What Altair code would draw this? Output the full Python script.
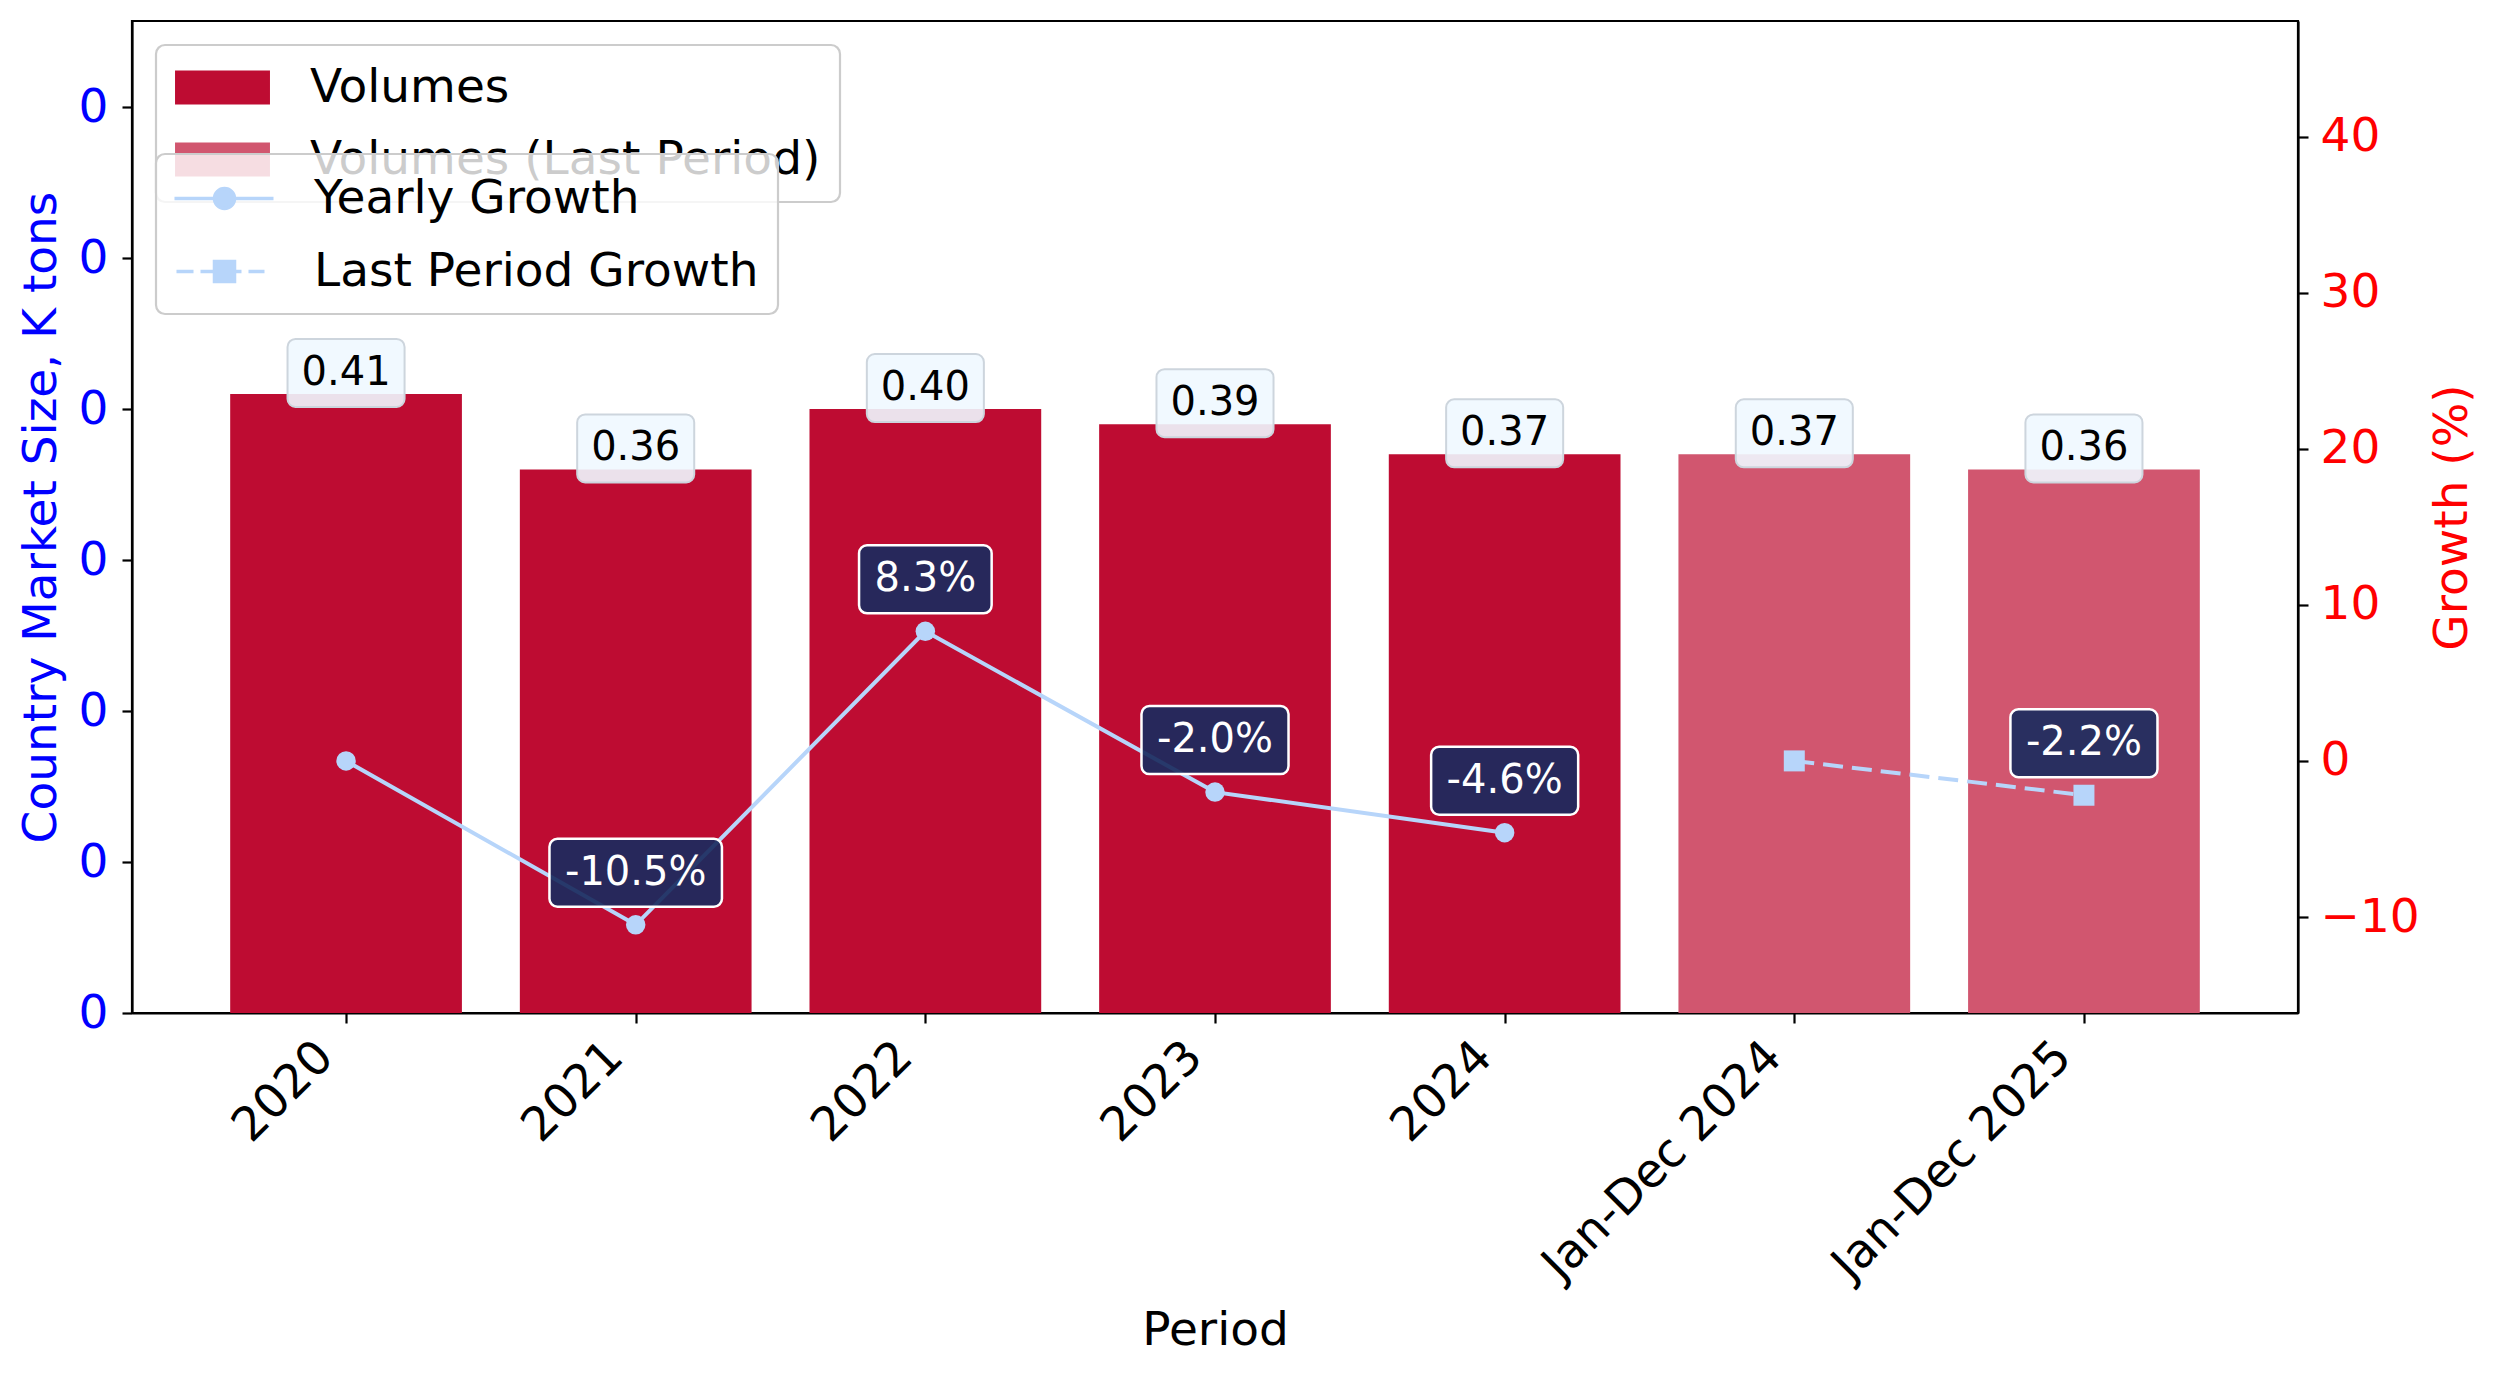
import json
import altair as alt
import pandas as pd

# ---------------- data ----------------
periods = ["2020", "2021", "2022", "2023", "2024", "Jan-Dec 2024", "Jan-Dec 2025"]
volumes = [0.41, 0.36, 0.40, 0.39, 0.37, 0.37, 0.36]
volume_kinds = ["Volumes", "Volumes", "Volumes", "Volumes", "Volumes",
                "Volumes (Last Period)", "Volumes (Last Period)"]
kind_names = ["Volumes", "Volumes (Last Period)"]
yearly_growth = [0.0, -10.5, 8.3, -2.0, -4.6]        # 2020..2024
last_period_growth = [0.0, -2.2]                      # Jan-Dec 2024, Jan-Dec 2025
growth_series = ["Yearly Growth", "Last Period Growth"]
left_ticks = [0, 0.1, 0.2, 0.3, 0.4, 0.5, 0.6]
right_ticks = [-10, 0, 10, 20, 30, 40]

# ---------------- layout / style ----------------
W, H = 2166, 992
X_DOM = [-0.739, 6.739]
VOL_DOM = [0, 0.657]
GR_DOM = [-16.15, 47.4]
PX_X = W / (X_DOM[1] - X_DOM[0])
PX_V = H / (VOL_DOM[1] - VOL_DOM[0])
PX_G = H / (GR_DOM[1] - GR_DOM[0])

FONT = "DejaVu Sans"
BAR_COLOR = "#BE0C32"
BAR_LAST_COLOR = "#D1566F"
LINE_COLOR = "#B7D5FA"
NAVY = "#1A2B5E"
LABEL_FS = 40
TICK_FS = 47

CHAR_EM = {"0": .636, "1": .636, "2": .636, "3": .636, "4": .636, "5": .636,
           "6": .636, "7": .636, "8": .636, "9": .636, ".": .318, "-": .361, "%": .950}


def text_px(s, size):
    return sum(CHAR_EM.get(c, 0.6) for c in s) * size


# bars table
bar_rows = []
for i, (p, v, k) in enumerate(zip(periods, volumes, volume_kinds)):
    lab = f"{v:.2f}"
    bw = text_px(lab, LABEL_FS) + 28
    bar_rows.append(dict(idx=i, period=p, vol=v, kind=k, label=lab,
                         x0=i - 0.4, x1=i + 0.4,
                         bx0=i - bw / 2 / PX_X, bx1=i + bw / 2 / PX_X,
                         by0=v + (21 - 34) / PX_V, by1=v + (21 + 34) / PX_V,
                         bty=v + 21 / PX_V))
bars_df = pd.DataFrame(bar_rows)

# growth table
gr_rows = []
n_year = len(yearly_growth)
for j, g in enumerate(yearly_growth):
    gr_rows.append(dict(idx=j, g=g, series=growth_series[0], first=(j == 0)))
for j, g in enumerate(last_period_growth):
    gr_rows.append(dict(idx=n_year + j, g=g, series=growth_series[1], first=(j == 0)))
for r in gr_rows:
    lab = f"{r['g']:.1f}%"
    bw = text_px(lab, LABEL_FS) + 31
    r.update(label=lab, gx0=r["idx"] - bw / 2 / PX_X, gx1=r["idx"] + bw / 2 / PX_X,
             gy0=r["g"] + (52 - 34) / PX_G, gy1=r["g"] + (52 + 34) / PX_G,
             gty=r["g"] + 52 / PX_G)
gr_df = pd.DataFrame(gr_rows)
gr_lab_df = gr_df[~gr_df["first"]]

xs = alt.Scale(domain=X_DOM, nice=False, zero=False)
vs = alt.Scale(domain=VOL_DOM, nice=False, zero=False)
gs = alt.Scale(domain=GR_DOM, nice=False, zero=False)

label_expr = json.dumps(periods) + "[datum.value]"

x_axis = alt.Axis(values=list(range(len(periods))), labelExpr=label_expr,
                  labelAngle=315, labelAlign="right", labelBaseline="top",
                  labelOffset=-37, labelPadding=10, labelFontSize=TICK_FS,
                  labelOverlap=False, labelFlush=False, labelLimit=2000,
                  title="Period", titleFontSize=47, titleX=W / 2, titleY=294,
                  titleBaseline="top", titleAlign="center", orient="bottom")

# matplotlib integer formatter shows every tick of this axis as "0"
left_axis = alt.Axis(values=left_ticks, labelExpr="format(floor(datum.value), 'd')",
                     labelOverlap=False, labelFlush=False,
                     labelColor="#0000FF", labelFontSize=TICK_FS, labelPadding=14,
                     title="Country Market Size, K tons", titleColor="#0000FF",
                     titleFontSize=47, titleAngle=270, titleBaseline="bottom",
                     titleX=-67, titleY=H / 2, titleAlign="center", orient="left")

right_axis = alt.Axis(values=right_ticks, labelColor="#FF0000",
                      labelFontSize=TICK_FS, labelPadding=12, orient="right",
                      labelOverlap=False, labelFlush=False,
                      title="Growth (%)", titleColor="#FF0000", titleFontSize=47,
                      titleAngle=270, titleBaseline="top", titleX=131, titleY=H / 2,
                      titleAlign="center")

RECT_PATH = "M-2.02,-0.72H2.02V0.72H-2.02Z"
LINE_CIRCLE_PATH = ("M-2.128,0L2.085,0M-0.426,0A0.426,0.426,0,1,0,0.426,0"
                    "A0.426,0.426,0,1,0,-0.426,0Z")
DASH_SQUARE_PATH = ("M-2.043,0L-1.319,0M-1.021,0L-0.426,0M0.426,0L0.723,0M1.021,0L1.702,0"
                    "M-0.426,-0.426L0.426,-0.426L0.426,0.426L-0.426,0.426Z")

# ---------------- volume layers ----------------
bars = alt.Chart(bars_df).mark_bar().encode(
    x=alt.X("x0:Q", scale=xs, axis=x_axis),
    x2="x1:Q",
    y=alt.Y("vol:Q", scale=vs, axis=left_axis),
    y2=alt.datum(0),
    color=alt.Color("kind:N", scale=alt.Scale(domain=kind_names,
                                              range=[BAR_COLOR, BAR_LAST_COLOR]),
                    legend=alt.Legend(title=None, orient="none", legendX=24, legendY=24,
                                      symbolType=RECT_PATH, symbolSize=2209,
                                      symbolOffset=24, labelOffset=64,
                                      symbolStrokeWidth=0, zindex=1)),
)

bar_boxes = alt.Chart(bars_df).mark_rect(
    cornerRadius=8, fill="#F0F8FF", fillOpacity=0.9, stroke="#CDD5DD", strokeWidth=2
).encode(
    x=alt.X("bx0:Q", scale=xs), x2="bx1:Q",
    y=alt.Y("by0:Q", scale=vs), y2="by1:Q",
)

bar_text = alt.Chart(bars_df).mark_text(
    font=FONT, fontSize=LABEL_FS, color="black", align="center", baseline="middle"
).encode(
    x=alt.X("idx:Q", scale=xs),
    y=alt.Y("bty:Q", scale=vs),
    text="label:N",
)

vol_group = alt.layer(bars, bar_boxes, bar_text)

# ---------------- growth layers ----------------
yearly_line = alt.Chart(gr_df).transform_filter(
    alt.datum.series == growth_series[0]
).mark_line(color=LINE_COLOR, strokeWidth=4).encode(
    x=alt.X("idx:Q", scale=xs),
    y=alt.Y("g:Q", scale=gs, axis=right_axis),
)

last_line = alt.Chart(gr_df).transform_filter(
    alt.datum.series == growth_series[1]
).mark_line(color=LINE_COLOR, strokeWidth=4, strokeDash=[20, 9]).encode(
    x=alt.X("idx:Q", scale=xs),
    y=alt.Y("g:Q", scale=gs),
)

yearly_pts = alt.Chart(gr_df).transform_filter(
    alt.datum.series == growth_series[0]
).mark_point(filled=True, shape="circle", size=380, color=LINE_COLOR, opacity=1).encode(
    x=alt.X("idx:Q", scale=xs),
    y=alt.Y("g:Q", scale=gs),
)

last_pts = alt.Chart(gr_df).transform_filter(
    alt.datum.series == growth_series[1]
).mark_point(filled=True, shape="square", size=441, color=LINE_COLOR, opacity=1).encode(
    x=alt.X("idx:Q", scale=xs),
    y=alt.Y("g:Q", scale=gs),
)

gr_boxes = alt.Chart(gr_lab_df).mark_rect(
    cornerRadius=8, fill=NAVY, fillOpacity=0.92, stroke="white", strokeWidth=2.5
).encode(
    x=alt.X("gx0:Q", scale=xs), x2="gx1:Q",
    y=alt.Y("gy0:Q", scale=gs), y2="gy1:Q",
)

gr_text = alt.Chart(gr_lab_df).mark_text(
    font=FONT, fontSize=LABEL_FS, color="white", align="center", baseline="middle"
).encode(
    x=alt.X("idx:Q", scale=xs),
    y=alt.Y("gty:Q", scale=gs),
    text="label:N",
)

legend_layer = alt.Chart(gr_df).transform_filter("false").mark_point(
    filled=True, color=LINE_COLOR, stroke=LINE_COLOR, strokeWidth=3.5
).encode(
    x=alt.X("idx:Q", scale=xs),
    y=alt.Y("g:Q", scale=gs),
    shape=alt.Shape("series:N",
                    scale=alt.Scale(domain=growth_series,
                                    range=[LINE_CIRCLE_PATH, DASH_SQUARE_PATH]),
                    legend=alt.Legend(title=None, orient="none", legendX=24, legendY=133,
                                      symbolSize=2209, symbolOffset=24, labelOffset=64,
                                      symbolFillColor=LINE_COLOR,
                                      symbolStrokeWidth=3.5, symbolOpacity=1, zindex=2)),
)

gr_group = alt.layer(yearly_line, last_line, yearly_pts, last_pts, gr_boxes, gr_text,
                     legend_layer)

chart = alt.layer(vol_group, gr_group).resolve_scale(y="independent").properties(
    width=W, height=H,
    autosize=alt.AutoSizeParams(type="none"),
    padding={"left": 124, "top": 13, "right": 193, "bottom": 354},
).configure(
    font=FONT, background="white"
).configure_view(
    stroke="black", strokeWidth=2.2
).configure_axis(
    grid=False, domainColor="black", domainWidth=2.2, tickColor="black",
    tickWidth=2.2, tickSize=10, labelFont=FONT, titleFont=FONT,
    titleFontWeight="normal", labelLimit=2000, titleLimit=3000
).configure_legend(
    labelFont=FONT, labelFontSize=47, labelColor="black", labelLimit=2000,
    padding=19, rowPadding=24, fillColor="rgba(255,255,255,0.8)",
    strokeColor="#CCCCCC", strokeWidth=2.2, cornerRadius=9
)

chart.save("out.html", embed_options={"renderer": "svg", "actions": False})
